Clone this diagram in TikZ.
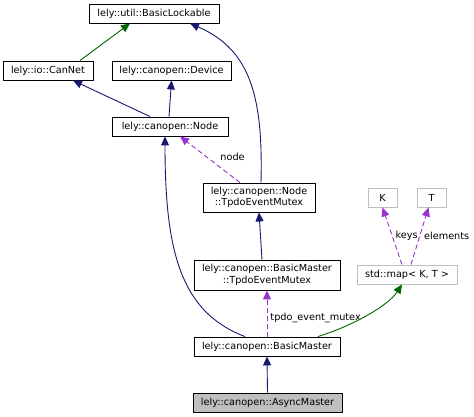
\documentclass[tikz,border=0pt]{standalone}
\usepackage{fontspec}
\setmainfont{DejaVu Sans}
\usetikzlibrary{arrows.meta}
\definecolor{navy}{HTML}{191970}
\definecolor{dgreen}{HTML}{006400}
\definecolor{orchid}{HTML}{9A32CD}
\definecolor{lgray}{HTML}{BFBFBF}
\begin{document}
\begin{tikzpicture}[x=1pt,y=-1pt,
  font=\fontsize{9.7}{11.5}\selectfont,
  cls/.style={draw=black, line width=0.9pt, inner sep=0pt, align=center, fill=white},
  ext/.style={draw=lgray, line width=0.9pt, inner sep=0pt, align=center, fill=white},
  tip/.style={-{Triangle[length=9pt,width=8pt]}},
  inh/.style={navy, line width=0.9pt, tip},
  tinh/.style={dgreen, line width=0.9pt, tip},
  use/.style={orchid, line width=0.9pt, dash pattern=on 5pt off 3pt, tip},
  lbl/.style={inner sep=1pt, text=black}]
\useasboundingbox (0,0) rectangle (474,417);
\node[cls, minimum width=130pt, minimum height=19pt] (bl) at (154,13.5) {lely::util::BasicLockable};
\node[cls, minimum width=90pt, minimum height=19pt] (cannet) at (48,70.5) {lely::io::CanNet};
\node[cls, minimum width=119pt, minimum height=19pt] (device) at (171.5,70.5) {lely::canopen::Device};
\node[cls, minimum width=116pt, minimum height=19pt] (node) at (170,126.5) {lely::canopen::Node};
\node[cls, minimum width=112pt, minimum height=29pt] (ntem) at (259,197.5) {lely::canopen::Node\\::TpdoEventMutex};
\node[ext, minimum width=29pt, minimum height=19pt] (k) at (382.5,197.5) {K};
\node[ext, minimum width=29pt, minimum height=19pt] (t) at (431.5,197.5) {T};
\node[ext, minimum width=100pt, minimum height=19pt] (map) at (407,274.5) {std::map< K, T >};
\node[cls, minimum width=146pt, minimum height=30pt] (bmtem) at (267,275) {lely::canopen::BasicMaster\\::TpdoEventMutex};
\node[cls, minimum width=146pt, minimum height=19pt] (bm) at (267,346.5) {lely::canopen::BasicMaster};
\node[cls, fill=lgray, minimum width=149pt, minimum height=19pt] (am) at (267.5,402.5) {lely::canopen::AsyncMaster};

\draw[tinh] ([xshift=32pt]cannet.north) -- ([xshift=-24pt]bl.south);
\draw[inh] ([xshift=-20pt]node.north) -- ([xshift=25pt]cannet.south);
\draw[inh] ([xshift=-1pt]node.north) -- (device.south);
\draw[inh] ([xshift=2pt]ntem.north) .. controls (263,100) and (252,50) .. ([xshift=36pt]bl.south);
\draw[use] ([xshift=-19pt]ntem.north) -- node[lbl, pos=0.45, anchor=south west, xshift=6pt] {node} ([xshift=10pt]node.south);
\draw[inh] ([xshift=-22pt]bm.north) .. controls (180,312) and (165,250) .. ([xshift=-5pt]node.south);
\draw[inh] ([xshift=-5pt]bmtem.north) -- (ntem.south);
\draw[use] (bm.north) -- node[lbl, anchor=west, xshift=2pt, pos=0.4] {tpdo\_event\_mutex} (bmtem.south);
\draw[tinh] ([xshift=51pt]bm.north) .. controls (352,326) and (388,306) .. ([xshift=-5pt]map.south);
\draw[use] ([xshift=-5pt]map.north) -- node[lbl, anchor=west, xshift=2pt, pos=0.5] {keys} (k.south);
\draw[use] ([xshift=4pt]map.north) -- node[lbl, anchor=west, xshift=3pt, pos=0.5] {elements} ([xshift=-3pt]t.south);
\draw[inh] (am.north) -- (bm.south);
\end{tikzpicture}
\end{document}
